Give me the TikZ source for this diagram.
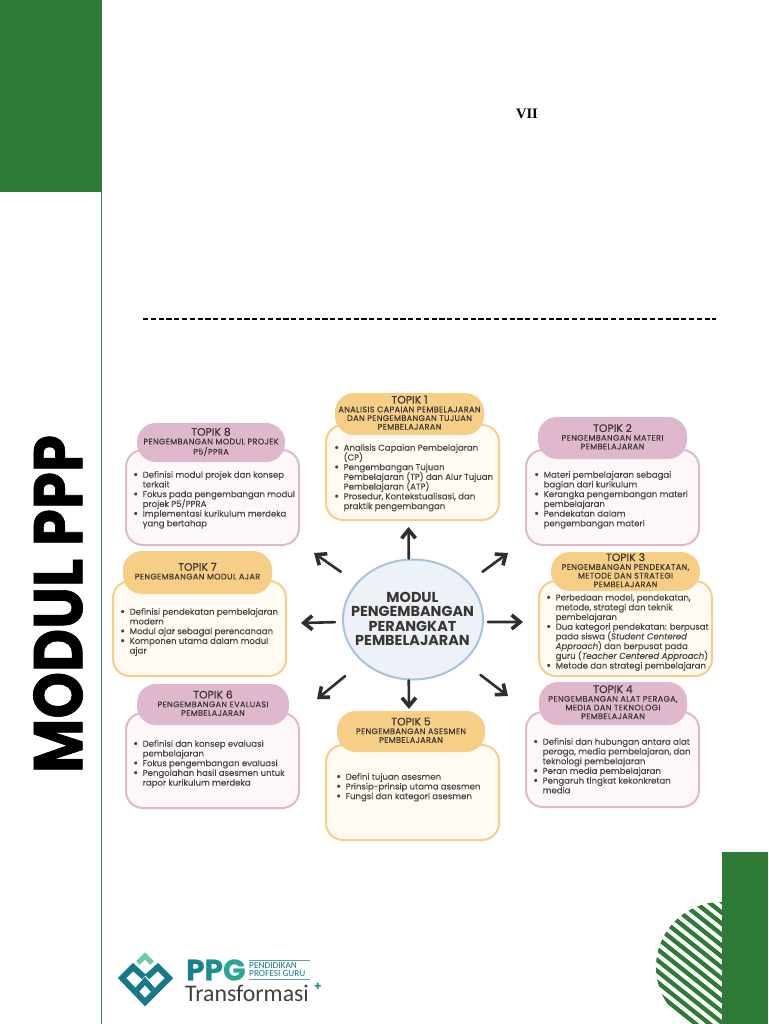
\documentclass[tikz,border=0pt]{standalone}
\usepackage{fontspec}
\setmainfont{Poppins}
\newfontfamily\medf[FakeBold=0.2,LetterSpace=4.5]{Poppins}
\newfontfamily\topf[FakeBold=0.3]{Poppins}
\newfontfamily\bodyf[FakeBold=0.12]{Poppins}
\newfontfamily\boldf{Poppins Bold}
\newfontfamily\sidef[FakeStretch=0.86,FakeBold=0.9]{Poppins Bold}
\newfontfamily\ppgf[FakeBold=0.6]{Poppins Bold}
\newfontfamily\liberb{Liberation Serif}
\newfontfamily\carl{Carlito}
\usetikzlibrary{arrows.meta,shapes.geometric}
\AtBeginDocument{\lineskiplimit=-20pt\relax}
\definecolor{dgreen}{HTML}{2E7B38}
\definecolor{tealline}{HTML}{3F7E78}
\definecolor{orangeh}{HTML}{F7CE85}
\definecolor{orangef}{HTML}{FFFBF3}
\definecolor{pinkh}{HTML}{DFB8CD}
\definecolor{pinkf}{HTML}{FDF7FA}
\definecolor{bodyink}{HTML}{454545}
\definecolor{headink}{HTML}{3A3632}
\definecolor{arrowink}{HTML}{2E2E2E}
\definecolor{ellfill}{HTML}{EDF2F9}
\definecolor{elldraw}{HTML}{A9C3DE}
\definecolor{logoteal}{HTML}{17788A}
\definecolor{logomint}{HTML}{6FC9A5}
\newcommand{\itm}[1]{\makebox[9.5pt][l]{\fontsize{12}{9}\selectfont\raisebox{-0.8pt}{\textbullet}}#1}
\newcommand{\cnt}[1]{\hspace*{9.5pt}#1}
\newcommand{\hd}[2]{\lineskiplimit=0pt\relax\medf\fontsize{8.1}{8.7}\selectfont\begin{tabular}{@{}c@{}}{\topf\fontsize{10.8}{9.5}\selectfont TOPIK #1}\\ #2\end{tabular}}
\tikzset{
  x=1pt,y=-1pt,
  bodyo/.style={draw=orangeh,fill=orangef,line width=2pt,rounded corners=17pt,anchor=north west,inner sep=0pt},
  bodyp/.style={draw=pinkh,fill=pinkf,line width=2pt,rounded corners=17pt,anchor=north west,inner sep=0pt},
  heado/.style={fill=orangeh,rounded corners=19pt,anchor=center,inner sep=0pt,text=headink},
  headp/.style={fill=pinkh,rounded corners=19pt,anchor=center,inner sep=0pt,text=headink},
  btext/.style={anchor=north west,inner sep=0pt,align=left,text=bodyink,font=\bodyf\fontsize{8.55}{9.72}\selectfont},
  arrowline/.style={draw=arrowink,line width=2.6pt,line cap=round,-{Straight Barb[length=8.5pt,width=14pt,line width=3.6pt]}}
}
\begin{document}
\begin{tikzpicture}
\useasboundingbox (0,0) rectangle (768,1024);
\fill[white] (0,0) rectangle (768,1024);
% side band and decorations
\fill[dgreen] (0,0) rectangle (102,192);
\draw[tealline,line width=1.6pt] (101.5,192) -- (101.5,1024);
\begin{scope}
\clip (721,967) circle (65);
\clip (640,890) rectangle (722,1024);
\foreach \i in {-16,...,16}{
  \draw[dgreen,line width=4.3pt] ({721-90},{967+\i*11-72}) -- ({721+90},{967+\i*11+72});
}
\end{scope}
\fill[dgreen] (722,852) rectangle (768,1024);
\node[rotate=90,anchor=center,inner sep=0pt,font=\sidef\fontsize{69}{70}\selectfont,text=black] (side) at (58,604) {MODUL PPP};
\node[inner sep=0pt,font=\liberb\bfseries\fontsize{14.5}{15}\selectfont,text=black] (vii) at (527,114) {VII};
\coordinate (dl) at (143,319);
\coordinate (dr) at (716,319);
\draw[black,line width=1.4pt,dash pattern=on 5.2pt off 2.6pt] (dl) -- (dr);
% center
\node[ellipse,draw=elldraw,fill=ellfill,line width=2pt,minimum width=140pt,minimum height=120pt,inner sep=0pt] (c) at (413,619.5) {};
\node[inner sep=0pt,align=center,text=headink,font=\boldf\fontsize{14.4}{14.6}\selectfont] (ct) at (412.5,619) {MODUL\\PENGEMBANGAN\\PERANGKAT\\PEMBELAJARAN};
% bodies
\node[bodyo,minimum width=173pt,minimum height=95pt] (b1) at (325,424) {};
\node[bodyp,minimum width=173pt,minimum height=95pt] (b2) at (525,449) {};
\node[bodyo,minimum width=173pt,minimum height=95pt] (b3) at (538,580) {};
\node[bodyp,minimum width=173pt,minimum height=95pt] (b4) at (525,711) {};
\node[bodyo,minimum width=173pt,minimum height=95pt] (b5) at (325,744) {};
\node[bodyp,minimum width=173pt,minimum height=95pt] (b6) at (125,712) {};
\node[bodyo,minimum width=173pt,minimum height=95pt] (b7) at (112,580) {};
\node[bodyp,minimum width=173pt,minimum height=95pt] (b8) at (125,449) {};
% headers
\node[heado,minimum width=149pt,minimum height=42pt] (h1) at (409.5,414) {\raisebox{-0.5pt}{\hd{1}{ANALISIS CAPAIAN PEMBELAJARAN\\DAN PENGEMBANGAN TUJUAN\\PEMBELAJARAN}}};
\node[headp,minimum width=149pt,minimum height=42pt] (h2) at (612.5,438) {\raisebox{0.5pt}{\hd{2}{PENGEMBANGAN MATERI\\PEMBELAJARAN}}};
\node[heado,minimum width=149pt,minimum height=39pt] (h3) at (625.5,571.5) {\raisebox{-0.5pt}{\hd{3}{PENGEMBANGAN PENDEKATAN,\\METODE DAN STRATEGI\\PEMBELAJARAN}}};
\node[headp,minimum width=148pt,minimum height=43pt] (h4) at (613,703.5) {\raisebox{-1pt}{\hd{4}{PENGEMBANGAN ALAT PERAGA,\\MEDIA DAN TEKNOLOGI\\PEMBELAJARAN}}};
\node[heado,minimum width=148pt,minimum height=41pt] (h5) at (411,731.5) {\raisebox{-0.5pt}{\hd{5}{PENGEMBANGAN ASESMEN\\PEMBELAJARAN}}};
\node[headp,minimum width=152pt,minimum height=41pt] (h6) at (213,704.5) {\hd{6}{PENGEMBANGAN EVALUASI\\PEMBELAJARAN}};
\node[heado,minimum width=149pt,minimum height=43pt] (h7) at (197.5,572.5) {\raisebox{-1.5pt}{\hd{7}{PENGEMBANGAN MODUL AJAR}}};
\node[headp,minimum width=148pt,minimum height=39pt] (h8) at (211,442.5) {\raisebox{-1pt}{\hd{8}{PENGEMBANGAN MODUL PROJEK\\P5/PPRA}}};
% body text
\node[btext] (t1) at (334,444) {\itm{Analisis Capaian Pembelajaran}\\\cnt{(CP)}\\\itm{Pengembangan Tujuan}\\\cnt{Pembelajaran (TP) dan Alur Tujuan}\\\cnt{Pembelajaran (ATP)}\\\itm{Prosedur, Kontekstualisasi, dan}\\\cnt{praktik pengembangan}};
\node[btext] (t2) at (534,471) {\itm{Materi pembelajaran sebagai}\\\cnt{bagian dari kurikulum}\\\itm{Kerangka pengembangan materi}\\\cnt{pembelajaran}\\\itm{Pendekatan dalam}\\\cnt{pengembangan materi}};
\node[btext] (t3) at (546,594) {\itm{Perbedaan model, pendekatan,}\\\cnt{metode, strategi dan teknik}\\\cnt{pembelajaran}\\\itm{Dua kategori pendekatan: berpusat}\\\cnt{pada siswa (\textit{Student Centered}}\\\cnt{\textit{Approach}) dan berpusat pada}\\\cnt{guru (\textit{Teacher Centered Approach})}\\\itm{Metode dan strategi pembelajaran}};
\node[btext] (t4) at (533,738) {\itm{Definisi dan hubungan antara alat}\\\cnt{peraga, media pembelajaran, dan}\\\cnt{teknologi pembelajaran}\\\itm{Peran media pembelajaran}\\\itm{Pengaruh tingkat kekonkretan}\\\cnt{media}};
\node[btext] (t5) at (336,773) {\itm{Defini tujuan asesmen}\\\itm{Prinsip-prinsip utama asesmen}\\\itm{Fungsi dan kategori asesmen}};
\node[btext] (t6) at (133,740) {\itm{Definisi dan konsep evaluasi}\\\cnt{pembelajaran}\\\itm{Fokus pengembangan evaluasi}\\\itm{Pengolahan hasil asesmen untuk}\\\cnt{rapor kurikulum merdeka}};
\node[btext] (t7) at (120,608) {\itm{Definisi pendekatan pembelajaran}\\\cnt{modern}\\\itm{Modul ajar sebagai perencanaan}\\\itm{Komponen utama dalam modul}\\\cnt{ajar}};
\node[btext] (t8) at (133,471) {\itm{Definisi modul projek dan konsep}\\\cnt{terkait}\\\itm{Fokus pada pengembangan modul}\\\cnt{projek P5/PPRA}\\\itm{Implementasi kurikulum merdeka}\\\cnt{yang bertahap}};
% arrows
\coordinate (a1) at (408.5,527);
\coordinate (a2) at (508,553);
\coordinate (a3) at (523,622);
\coordinate (a4) at (508,696);
\coordinate (a5) at (409,709);
\coordinate (a6) at (317,699);
\coordinate (a7) at (301,623);
\coordinate (a8) at (314,553);
\draw[arrowline] (c.94) -- (a1);
\draw[arrowline,shorten <=17pt] (c.34) -- (a2);
\draw[arrowline,shorten <=4pt] (c.-2) -- (a3);
\draw[arrowline,shorten <=21pt] (c.-40) -- (a4);
\draw[arrowline] (c.-94) -- (a5);
\draw[arrowline,shorten <=22pt] (c.-140) -- (a6);
\draw[arrowline,shorten <=7pt] (c.182) -- (a7);
\draw[arrowline,shorten <=19pt] (c.147) -- (a8);
% logo
\begin{scope}[line join=miter]
\draw[logomint,line width=5pt] (138,963) -- (145,956) -- (152,963);
\draw[logoteal,line width=6pt] (144,977) -- (133,967) -- (122,978) -- (145,1002) -- (169,978) -- (158,967) -- (147,977);
\draw[logoteal,line width=5.5pt] (137,990) -- (145,981) -- (153,990);
\end{scope}
\node[anchor=west,inner sep=0pt,font=\ppgf\fontsize{29.5}{30}\selectfont] (ppg) at (186,970) {\textcolor[HTML]{17808C}{P}\textcolor[HTML]{1B8F92}{P}\textcolor[HTML]{2AA596}{G}};
\coordinate (ll1) at (249,960.5);
\coordinate (lr1) at (310,960.5);
\coordinate (ll2) at (249,979.5);
\coordinate (lr2) at (310,979.5);
\draw[logoteal!70,line width=.7pt] (ll1) -- (lr1);
\draw[logoteal!70,line width=.7pt] (ll2) -- (lr2);
\node[anchor=west,inner sep=0pt,align=left,text=logoteal,font=\carl\fontsize{9.3}{7.2}\selectfont] (ppgt) at (249,969.5) {PENDIDIKAN\\PROFESI GURU};
\node[anchor=base west,inner sep=0pt,text=black!75,font=\carl\fontsize{23.8}{25}\selectfont] (tr) at (185,1001) {Transformasi};
\node[inner sep=0pt,text=logoteal!70!logomint,font=\boldf\fontsize{12}{12}\selectfont] (plus) at (318,986.5) {+};
\end{tikzpicture}
\end{document}
